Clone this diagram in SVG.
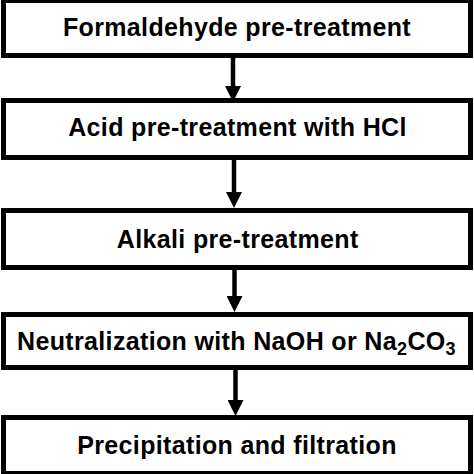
<svg xmlns="http://www.w3.org/2000/svg" width="474" height="474" viewBox="0 0 474 474">
<style>
.box{fill:#fff;stroke:#000;stroke-width:5}
.lbl{font-family:"Liberation Sans",Arial,sans-serif;font-weight:bold;font-size:25px;letter-spacing:0.35px;fill:#000;text-anchor:middle}
.sub{font-size:18px}
.conn{stroke:#000;stroke-width:4.5;fill:none}
</style>
<defs>
<marker id="ah" markerUnits="userSpaceOnUse" markerWidth="16" markerHeight="16" refX="0" refY="8" orient="auto">
<path d="M0,0 L16,8 L0,16 z" fill="#000"/>
</marker>
</defs>
<rect width="474" height="474" fill="#fff"/>
<g id="connectors">
<line class="conn" x1="233" y1="57" x2="233" y2="86" marker-end="url(#ah)"/>
<line class="conn" x1="234" y1="159" x2="234" y2="192" marker-end="url(#ah)"/>
<line class="conn" x1="234.5" y1="269" x2="234.5" y2="296" marker-end="url(#ah)"/>
<line class="conn" x1="235.5" y1="369" x2="235.5" y2="400" marker-end="url(#ah)"/>
</g>
<g id="n1">
<rect class="box" x="3.5" y="0.5" width="467" height="55"/>
<text class="lbl" x="237" y="35.7">Formaldehyde pre-treatment</text>
</g>
<g id="n2">
<rect class="box" x="3.5" y="100.5" width="467" height="57"/>
<text class="lbl" x="237.5" y="136">Acid pre-treatment with HCl</text>
</g>
<g id="n3">
<rect class="box" x="3.5" y="210.5" width="467" height="57"/>
<text class="lbl" x="237.7" y="247.7">Alkali pre-treatment</text>
</g>
<g id="n4">
<rect class="box" x="3.5" y="314.5" width="467" height="53"/>
<text class="lbl" x="236.5" y="349.5">Neutralization with NaOH or Na<tspan class="sub" dy="5">2</tspan><tspan dy="-5">CO</tspan><tspan class="sub" dy="5">3</tspan></text>
</g>
<g id="n5">
<rect class="box" x="3.5" y="417.5" width="467" height="56"/>
<text class="lbl" x="237" y="454">Precipitation and filtration</text>
</g>
</svg>
